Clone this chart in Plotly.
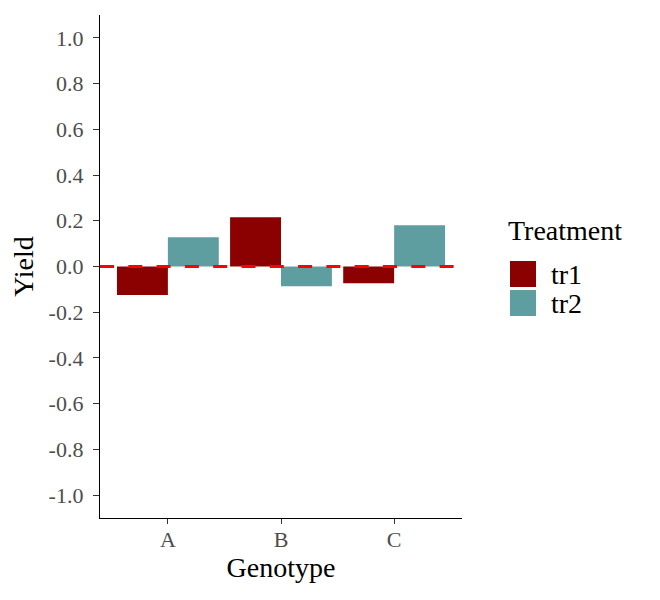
import plotly.graph_objects as go

genotypes = ["A", "B", "C"]
tr1_yield = [-0.125, 0.215, -0.073]
tr2_yield = [0.128, -0.086, 0.180]
treatments = ["tr1", "tr2"]
colors = ["#8B0000", "#5F9EA0"]
y_ticks = [-1.0, -0.8, -0.6, -0.4, -0.2, 0.0, 0.2, 0.4, 0.6, 0.8, 1.0]

W, H = 660, 600
L, R, T, B = 100, 198, 15, 82
pw, ph = W - L - R, H - T - B

def px(x):
    return (x - L) / pw

def py(y):
    return 1 - (y - T) / ph

FONT = "Liberation Serif"

fig = go.Figure()
for name, vals, col in zip(treatments, [tr1_yield, tr2_yield], colors):
    fig.add_trace(go.Bar(x=genotypes, y=vals, name=name, marker=dict(color=col, line=dict(width=0)),
                         showlegend=False))

fig.add_shape(type="line", xref="paper", yref="y", x0=0, x1=1, y0=0, y1=0,
              line=dict(color="#FF0000", width=3, dash="14px,14.3px"))

# manual legend
fig.add_annotation(xref="paper", yref="paper", x=px(506), y=py(231), text="Treatment",
                   showarrow=False, xanchor="left", yanchor="middle",
                   font=dict(family=FONT, size=28, color="black"))
for i, (name, col) in enumerate(zip(treatments, colors)):
    y0 = 261 + i * 29
    fig.add_shape(type="rect", xref="paper", yref="paper", x0=px(510), x1=px(536),
                  y0=py(y0 + 26), y1=py(y0), fillcolor=col, line=dict(width=0))
    fig.add_annotation(xref="paper", yref="paper", x=px(549), y=py(y0 + 13), text=name,
                       showarrow=False, xanchor="left", yanchor="middle",
                       font=dict(family=FONT, size=28, color="black"))

fig.update_layout(
    width=W, height=H, margin=dict(l=L, r=R, t=T, b=B),
    plot_bgcolor="white", paper_bgcolor="white",
    barmode="group", bargap=0.1, bargroupgap=0,
    font=dict(family=FONT),
    showlegend=False,
)
fig.update_xaxes(range=[-0.6, 2.6], showline=True, linecolor="black", linewidth=1.3,
                 ticks="outside", ticklen=5, tickwidth=1.3, tickcolor="#333333",
                 tickfont=dict(family=FONT, size=22, color="#4D4D4D"), ticklabelstandoff=-4,
                 title=dict(text="Genotype", font=dict(family=FONT, size=28, color="black"), standoff=2),
                 showgrid=False, zeroline=False)
fig.update_yaxes(range=[-1.1, 1.1], tickvals=y_ticks, ticktext=[f"{v:.1f}" for v in y_ticks],
                 showline=True, linecolor="black", linewidth=1.3,
                 ticks="outside", ticklen=6, tickwidth=1.3, tickcolor="#333333",
                 tickfont=dict(family=FONT, size=22, color="#4D4D4D"), ticklabelstandoff=5,
                 title=dict(text="Yield", font=dict(family=FONT, size=28, color="black"), standoff=6),
                 showgrid=False, zeroline=False)

fig.write_html("out.html")
